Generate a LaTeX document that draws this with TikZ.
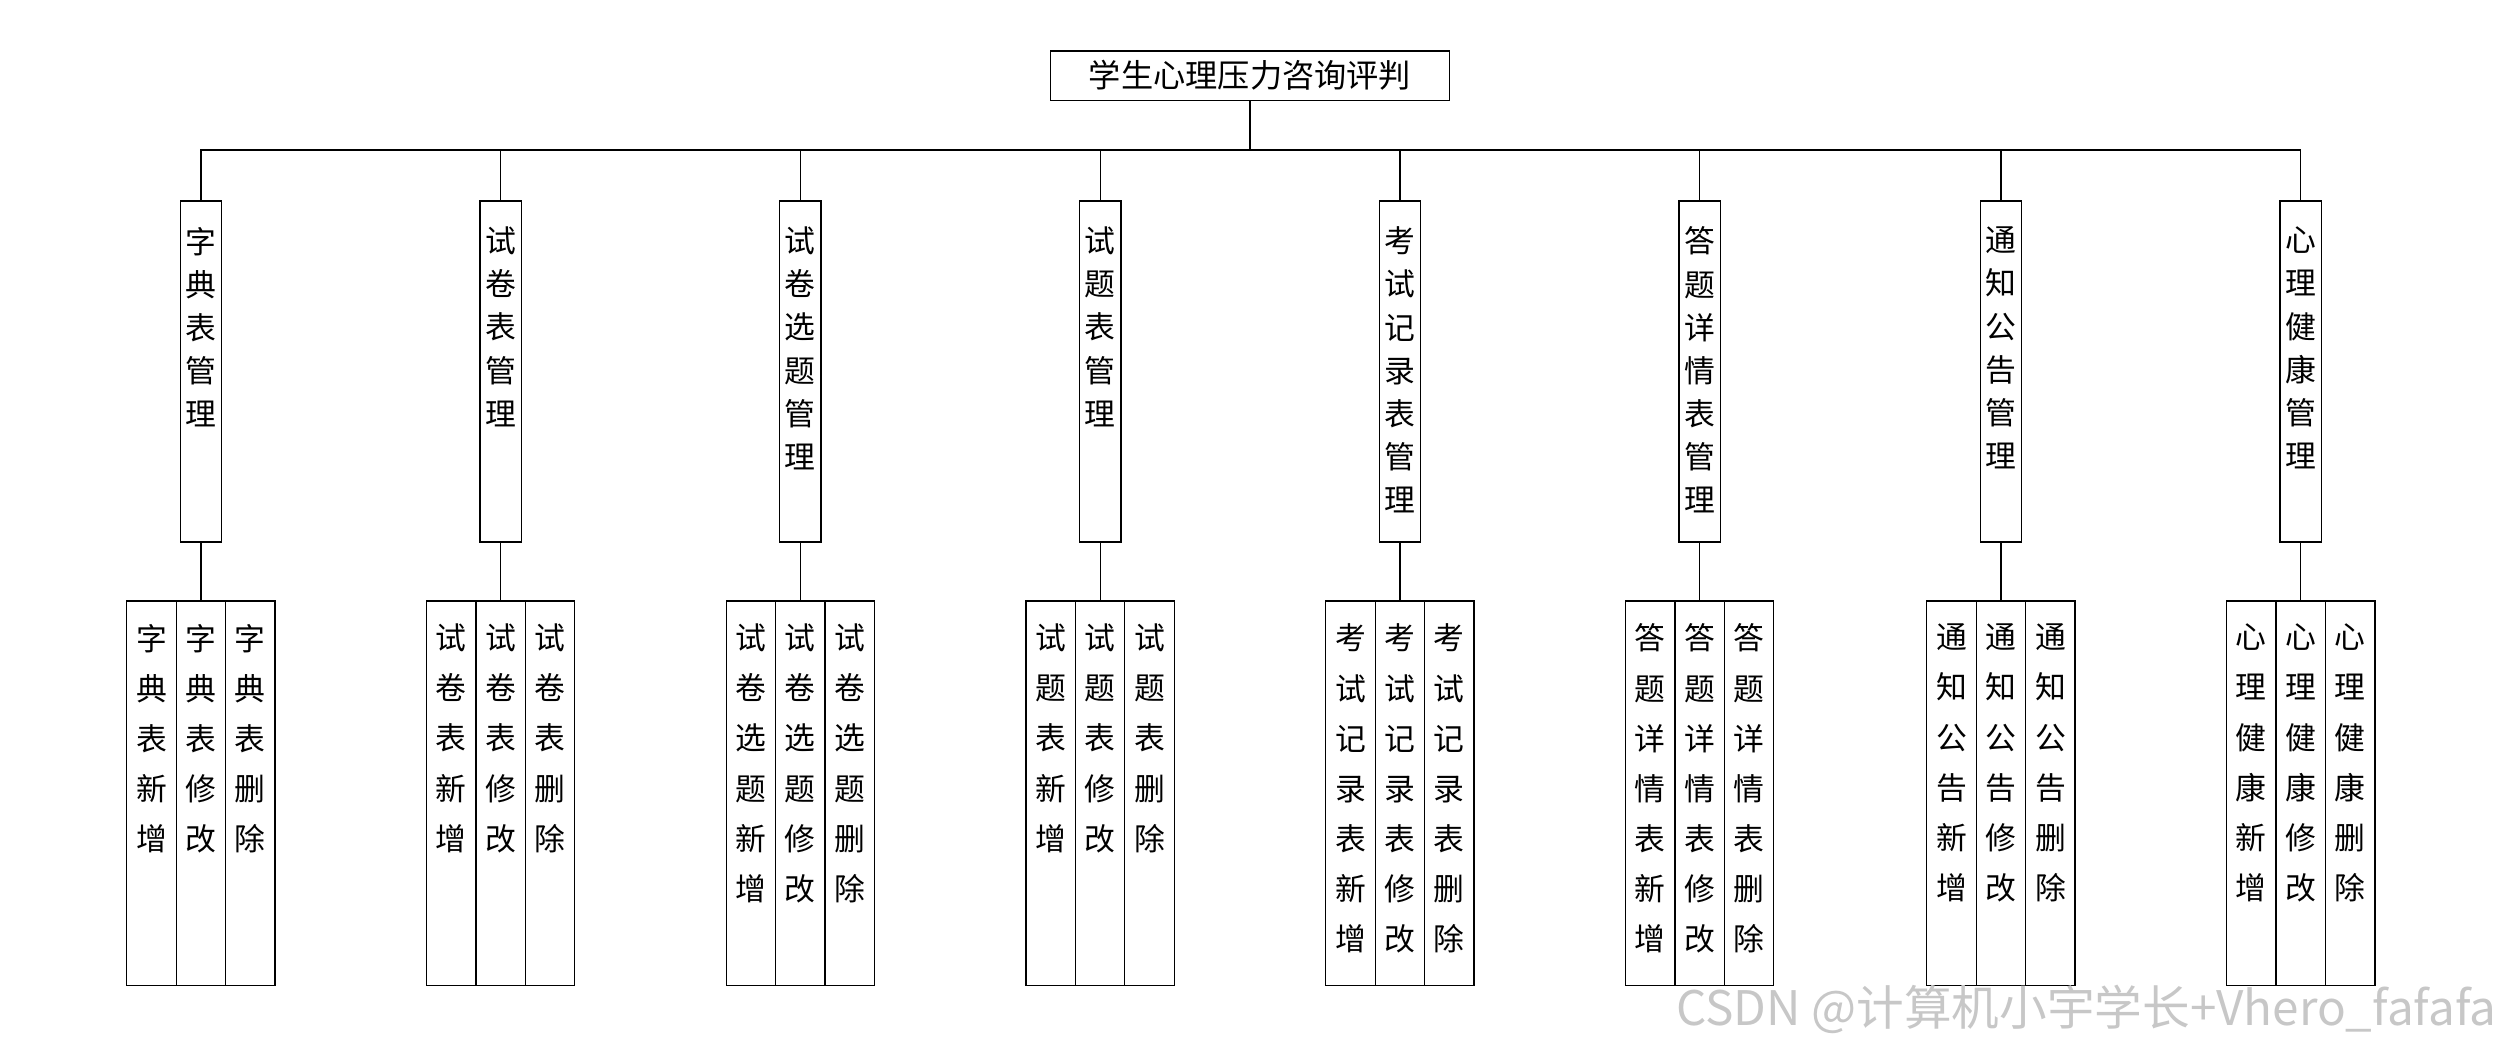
\documentclass[tikz,border=0pt]{standalone}
\usepackage{fontspec}
\setmainfont{Noto Sans CJK SC}
\begin{document}
\begin{tikzpicture}[x=0.02cm,y=-0.02cm,
  box/.style={draw,line width=0.45pt,inner sep=0pt},
  vtxt/.style={anchor=north,align=center,inner sep=0pt,font=\fontsize{11pt}{15.4pt}\selectfont},
  ltxt/.style={anchor=north,align=center,inner sep=0pt,font=\fontsize{11pt}{17.9pt}\selectfont},
  conn/.style={line width=0.45pt}]
\useasboundingbox (0,0) rectangle (1568,659);
\node[box,minimum width=250*0.02cm,minimum height=31*0.02cm,font=\fontsize{11.5pt}{14pt}\selectfont] (root) at (784,47.5) {学生心理压力咨询评判};
\coordinate (bus) at (0,94);
\foreach \i/\x/\p in {1/126/{字\\典\\表},2/314/{试\\卷\\表},3/502/{试\\卷\\选\\题},4/690/{试\\题\\表},5/878/{考\\试\\记\\录\\表},6/1066/{答\\题\\详\\情\\表},7/1255/{通\\知\\公\\告},8/1443/{心\\理\\健\\康}}{
  \node[box,minimum width=26*0.02cm,minimum height=214*0.02cm] (m\i) at (\x,233) {};
  \node[vtxt] (mt\i) at (\x,142) {\p\\管\\理};
  \draw[conn] (root.south) -- (root.south |- bus) -| (m\i.north);
  \foreach \j/\dx/\s in {1/-31/{新\\增},2/0/{修\\改},3/31/{删\\除}}{
    \node[box,minimum width=31*0.02cm,minimum height=241*0.02cm] (l\i-\j) at (\x+\dx,497.5) {};
    \node[ltxt] (lt\i-\j) at (\x+\dx,391) {\p\\\s};
  }
  \draw[conn] (m\i.south) -- (l\i-2.north);
}
\node[anchor=east,text=black!22,font=\fontsize{17pt}{20pt}\selectfont,inner sep=0pt] (wm) at (1566,633) {CSDN @计算机小宇学长+Vhero\_fafafa};
\end{tikzpicture}
\end{document}
